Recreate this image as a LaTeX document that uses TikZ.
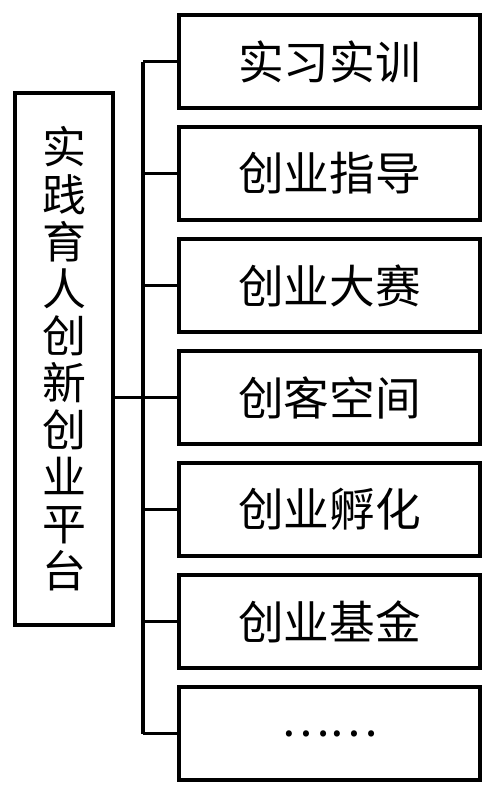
\documentclass[tikz,border=0pt]{standalone}
\usepackage{fontspec}
\setmainfont{Noto Sans CJK SC}
\usetikzlibrary{positioning}

\tikzset{
    item/.style={draw, line width=3.5pt*0.6, minimum width=6.02cm, minimum height=1.86cm,
        inner sep=0pt, font=\fontsize{26}{30}\selectfont},
    platform/.style={draw, line width=3.5pt*0.6, minimum width=1.96cm, minimum height=10.64cm,
        inner sep=0pt, align=center, font=\fontsize{25}{26.8}\selectfont},
    link/.style={line width=3.5pt*0.6}
}

\begin{document}
\begin{tikzpicture}[x=0.02cm, y=-0.02cm]
    % Page frame
    \useasboundingbox (0,0) rectangle (500,801);

    % Platform box on the left
    \node[platform] (plat) at (64,359) {实\\践\\育\\人\\创\\新\\创\\业\\平\\台};

    % Item boxes on the right
    \foreach \i/\txt in {1/实习实训, 2/创业指导, 3/创业大赛, 4/创客空间,
                        5/创业孵化, 6/创业基金, 7/……} {
        \node[item] (b\i) at (329.5,{61.5+112*(\i-1)}) {\txt};
    }

    % Trunk line
    \coordinate (trunk) at (143,0);
    \draw[link] (trunk |- b1.west) -- (trunk |- b7.west);

    % Branches to each box
    \foreach \i in {1,...,7} {
        \draw[link] (trunk |- b\i.west) -- (b\i.west);
    }

    % Link from platform to trunk
    \draw[link] (plat.east |- b4.west) -- (trunk |- b4.west);
\end{tikzpicture}
\end{document}
